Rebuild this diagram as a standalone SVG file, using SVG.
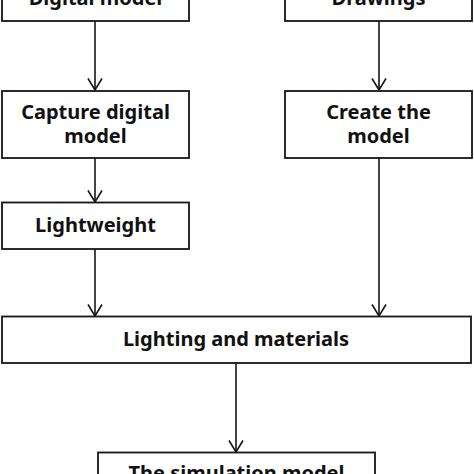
<svg xmlns="http://www.w3.org/2000/svg" width="474" height="474" viewBox="0 0 474 474">
<defs>
<style>
.box{fill:#fff;stroke:#161616;stroke-width:1.8}
.lbl{font-family:"Noto Sans","Open Sans","DejaVu Sans",sans-serif;font-weight:bold;font-size:20px;fill:#111;text-anchor:middle}
.conn{fill:none;stroke:#161616;stroke-width:1.6}
</style>
<marker id="arr" markerUnits="userSpaceOnUse" viewBox="0 0 14 16" markerWidth="14" markerHeight="16" refX="12.5" refY="8" orient="auto">
<path d="M1,1 L12.5,8 L1,15" fill="none" stroke="#161616" stroke-width="1.6"/>
</marker>
</defs>
<rect width="474" height="474" fill="#fff"/>
<g id="connectors">
<line class="conn" x1="95" y1="21" x2="95" y2="90" marker-end="url(#arr)"/>
<line class="conn" x1="379" y1="21" x2="379" y2="90" marker-end="url(#arr)"/>
<line class="conn" x1="95" y1="158" x2="95" y2="202" marker-end="url(#arr)"/>
<line class="conn" x1="95" y1="249" x2="95" y2="316" marker-end="url(#arr)"/>
<line class="conn" x1="379" y1="158" x2="379" y2="316" marker-end="url(#arr)"/>
<line class="conn" x1="236" y1="363" x2="236" y2="452" marker-end="url(#arr)"/>
</g>
<g id="digital-model">
<rect class="box" x="2" y="-26" width="187" height="47"/>
<text class="lbl" x="95.5" y="4.5">Digital model</text>
</g>
<g id="drawings">
<rect class="box" x="285" y="-26" width="187" height="47"/>
<text class="lbl" x="378.5" y="4.5">Drawings</text>
</g>
<g id="capture-digital-model">
<rect class="box" x="2" y="91" width="187" height="67"/>
<text class="lbl" x="95.5" y="118.5">Capture digital</text>
<text class="lbl" x="95.5" y="142.5">model</text>
</g>
<g id="create-the-model">
<rect class="box" x="285" y="91" width="187" height="67"/>
<text class="lbl" x="378.5" y="118.5">Create the</text>
<text class="lbl" x="378.5" y="142.5">model</text>
</g>
<g id="lightweight">
<rect class="box" x="2" y="202.5" width="187" height="46.5"/>
<text class="lbl" x="95.5" y="232">Lightweight</text>
</g>
<g id="lighting-and-materials">
<rect class="box" x="2" y="316.5" width="469" height="46.5"/>
<text class="lbl" x="236" y="345.5">Lighting and materials</text>
</g>
<g id="simulation-model">
<rect class="box" x="98" y="452.5" width="277" height="50"/>
<text class="lbl" x="236.5" y="480">The simulation model</text>
</g>
</svg>
